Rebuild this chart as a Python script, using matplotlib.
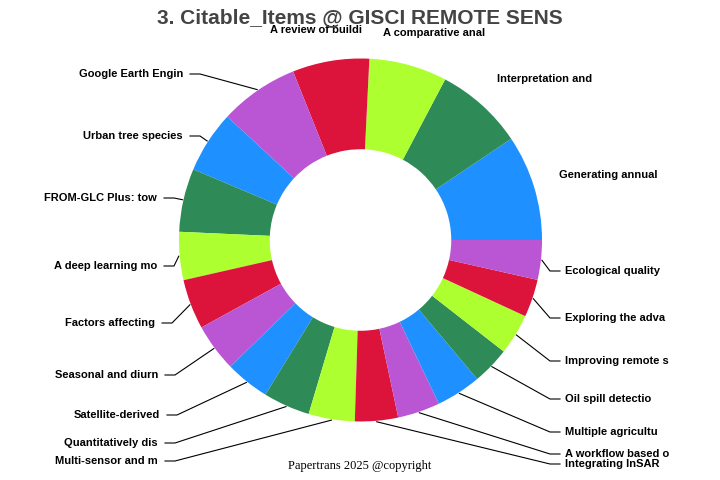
import numpy as np
import matplotlib.pyplot as plt

plt.rcParams.update({
    'font.family': ['Liberation Sans', 'DejaVu Sans'],
    'font.size': 8,
})

# Slice labels (truncated as in the source) and values (read as degrees of arc)
labels = [
    "Generating annual", "Interpretation and", "A comparative anal",
    "A review of buildi", "Google Earth Engin", "Urban tree species",
    "FROM-GLC Plus: tow", "A deep learning mo", "Factors affecting",
    "Seasonal and diurn", "Satellite-derived", "Quantitatively dis",
    "Multi-sensor and m", "Integrating InSAR", "A workflow based o",
    "Multiple agricultu", "Oil spill detectio", "Improving remote s",
    "Exploring the adva", "Ecological quality",
]
values = [33.9, 28.3, 25.0, 24.6, 25.4, 19.9, 20.3, 15.4, 16.0, 15.4,
          14.2, 15.0, 14.8, 13.8, 13.6, 14.4, 12.1, 13.1, 12.1, 12.7]
palette = ["#1E90FF", "#2E8B57", "#ADFF2F", "#DC143C", "#BA55D3"]

# Label layout in pixel coords: (text x, text y, side, draw leader)
label_pos = [
    (559, 175, 'r', False), (497, 79, 'r', False), (383, 33, 'r', False),
    (270, 30, 'r', False), (183, 74, 'l', True), (183, 136, 'l', True),
    (157, 198, 'l', True), (157, 266, 'l', True), (155, 323, 'l', True),
    (158, 375, 'l', True), (160, 415, 'l', True), (158, 443, 'l', True),
    (158, 461, 'l', True), (565, 464, 'r', True), (565, 454, 'r', True),
    (565, 432, 'r', True), (565, 399, 'r', True), (565, 361, 'r', True),
    (565, 318, 'r', True), (565, 271, 'r', True),
]

W, H = 720, 480
CX, CY, R = 360.5, 240, 181.5

fig = plt.figure(figsize=(7.2, 4.8), dpi=100)
ax = fig.add_axes([0, 0, 1, 1])

colors = [palette[i % len(palette)] for i in range(len(values))]
wedges, _ = ax.pie(values, colors=colors, startangle=0, counterclock=True,
                   center=(CX, H - CY), radius=R,
                   wedgeprops=dict(width=R * 0.5, linewidth=0))

for w, lab, (tx, ty, side, leader) in zip(wedges, labels, label_pos):
    mid = np.deg2rad((w.theta1 + w.theta2) / 2)
    ex = CX + (R + 1) * np.cos(mid)
    ey = H - CY + (R + 1) * np.sin(mid)
    y = H - ty
    if leader:
        if side == 'l':
            xs = [ex, tx + 17, tx + 7]
        else:
            xs = [ex, tx - 15, tx - 5]
        ax.plot(xs, [ey, y, y], color='black', lw=0.8)
    ax.text(tx, y, lab, ha='right' if side == 'l' else 'left', va='center',
            fontweight='bold', color='black')

ax.set_xlim(0, W)
ax.set_ylim(0, H)
ax.axis('off')

fig.text(0.5, 1 - 18 / H, "3. Citable_Items @ GISCI REMOTE SENS", ha='center',
         va='center', fontsize=15, fontweight='bold', color='#444444')
fig.text(0.5, 1 - 466 / H, "Papertrans 2025 @copyright", ha='center',
         va='center', fontsize=9, family='Liberation Serif', color='black')

fig.savefig("out.png", dpi=100)
